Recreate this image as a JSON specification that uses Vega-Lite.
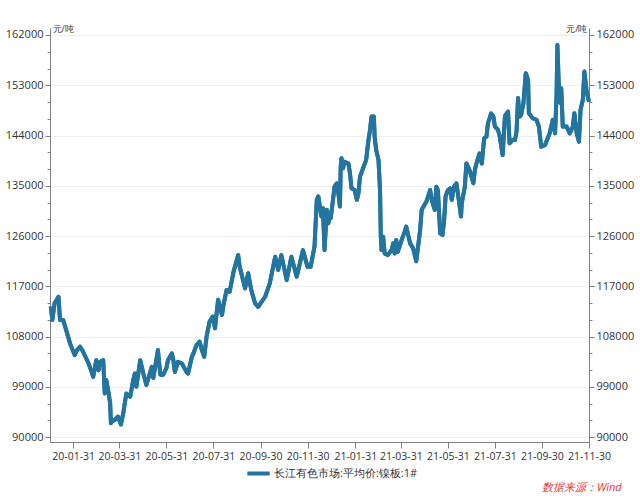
{
  "$schema": "https://vega.github.io/schema/vega-lite/v6.json",
  "autosize": "none",
  "width": 539,
  "height": 414,
  "padding": {"left": 50, "top": 28, "right": 51, "bottom": 57},
  "background": "white",
  "config": {
    "view": {"stroke": null},
    "font": "Open Sans",
    "axis": {"labelFont": "Open Sans", "labelFontSize": 11, "labelColor": "#333333", "domainColor": "#808080", "tickColor": "#808080", "gridColor": "#eeeeee", "titleFont": "Open Sans", "titleFontWeight": "normal", "titleColor": "#333333"}
  },
  "title": {"text": "数据来源：Wind", "orient": "bottom", "anchor": "end", "offset": 14, "dx": -12, "dy": -14, "fontSize": 11, "fontStyle": "italic", "fontWeight": "normal", "color": "#e0333a", "font": "Open Sans"},
  "data": {"values": [
    {"d":"2020-01-02","v":113400},{"d":"2020-01-04","v":111000},{"d":"2020-01-07","v":114000},{"d":"2020-01-12","v":115150},{"d":"2020-01-14","v":111000},{"d":"2020-01-18","v":111000},{"d":"2020-01-20","v":110100},{"d":"2020-01-27","v":106800},{"d":"2020-02-02","v":104700},{"d":"2020-02-05","v":105600},{"d":"2020-02-09","v":106200},{"d":"2020-02-13","v":105300},{"d":"2020-02-20","v":103200},{"d":"2020-02-24","v":101700},{"d":"2020-02-26","v":100800},{"d":"2020-03-01","v":103800},{"d":"2020-03-04","v":102000},{"d":"2020-03-06","v":103500},{"d":"2020-03-10","v":103800},{"d":"2020-03-12","v":97850},{"d":"2020-03-14","v":100250},{"d":"2020-03-17","v":97850},{"d":"2020-03-19","v":96100},{"d":"2020-03-20","v":92500},{"d":"2020-03-21","v":92800},{"d":"2020-03-25","v":93100},{"d":"2020-03-29","v":93700},{"d":"2020-04-02","v":92300},{"d":"2020-04-05","v":94300},{"d":"2020-04-09","v":97850},{"d":"2020-04-14","v":97250},{"d":"2020-04-18","v":100250},{"d":"2020-04-20","v":101400},{"d":"2020-04-22","v":99050},{"d":"2020-04-27","v":103800},{"d":"2020-05-01","v":101400},{"d":"2020-05-05","v":99350},{"d":"2020-05-12","v":102600},{"d":"2020-05-14","v":100600},{"d":"2020-05-20","v":105600},{"d":"2020-05-23","v":101200},{"d":"2020-05-27","v":101200},{"d":"2020-05-31","v":102400},{"d":"2020-06-02","v":103800},{"d":"2020-06-07","v":105000},{"d":"2020-06-09","v":103800},{"d":"2020-06-11","v":101700},{"d":"2020-06-15","v":103500},{"d":"2020-06-20","v":103200},{"d":"2020-06-26","v":101700},{"d":"2020-06-28","v":101400},{"d":"2020-07-03","v":104400},{"d":"2020-07-05","v":105000},{"d":"2020-07-09","v":106500},{"d":"2020-07-13","v":107100},{"d":"2020-07-16","v":105600},{"d":"2020-07-19","v":104400},{"d":"2020-07-22","v":108000},{"d":"2020-07-26","v":110700},{"d":"2020-07-30","v":111600},{"d":"2020-08-02","v":109500},{"d":"2020-08-06","v":114600},{"d":"2020-08-11","v":111900},{"d":"2020-08-13","v":113700},{"d":"2020-08-17","v":116350},{"d":"2020-08-21","v":116050},{"d":"2020-08-26","v":119600},{"d":"2020-09-01","v":122600},{"d":"2020-09-03","v":120500},{"d":"2020-09-10","v":116650},{"d":"2020-09-14","v":119350},{"d":"2020-09-18","v":116350},{"d":"2020-09-23","v":113950},{"d":"2020-09-27","v":113350},{"d":"2020-10-06","v":115150},{"d":"2020-10-12","v":117550},{"d":"2020-10-19","v":122300},{"d":"2020-10-23","v":119950},{"d":"2020-10-27","v":122600},{"d":"2020-11-03","v":118150},{"d":"2020-11-09","v":122300},{"d":"2020-11-16","v":118750},{"d":"2020-11-22","v":122300},{"d":"2020-11-24","v":123500},{"d":"2020-11-30","v":120500},{"d":"2020-12-04","v":120500},{"d":"2020-12-09","v":124100},{"d":"2020-12-12","v":132500},{"d":"2020-12-14","v":133100},{"d":"2020-12-16","v":131300},{"d":"2020-12-18","v":129500},{"d":"2020-12-20","v":131000},{"d":"2020-12-22","v":123500},{"d":"2020-12-25","v":130700},{"d":"2020-12-27","v":128300},{"d":"2020-12-29","v":130100},{"d":"2020-12-30","v":129200},{"d":"2021-01-02","v":132500},{"d":"2021-01-04","v":134850},{"d":"2021-01-07","v":135450},{"d":"2021-01-09","v":133650},{"d":"2021-01-11","v":131300},{"d":"2021-01-12","v":138450},{"d":"2021-01-13","v":139950},{"d":"2021-01-15","v":138150},{"d":"2021-01-17","v":139300},{"d":"2021-01-22","v":139000},{"d":"2021-01-24","v":137250},{"d":"2021-01-26","v":134550},{"d":"2021-01-30","v":134250},{"d":"2021-02-02","v":132500},{"d":"2021-02-04","v":133650},{"d":"2021-02-06","v":136650},{"d":"2021-02-10","v":138150},{"d":"2021-02-14","v":139650},{"d":"2021-02-17","v":143200},{"d":"2021-02-19","v":145000},{"d":"2021-02-21","v":147400},{"d":"2021-02-24","v":147400},{"d":"2021-02-25","v":143800},{"d":"2021-02-27","v":141400},{"d":"2021-03-02","v":139650},{"d":"2021-03-04","v":134250},{"d":"2021-03-05","v":125900},{"d":"2021-03-06","v":123500},{"d":"2021-03-08","v":125900},{"d":"2021-03-10","v":122900},{"d":"2021-03-14","v":122600},{"d":"2021-03-19","v":123500},{"d":"2021-03-21","v":124700},{"d":"2021-03-23","v":122900},{"d":"2021-03-25","v":125300},{"d":"2021-03-27","v":123200},{"d":"2021-04-01","v":125300},{"d":"2021-04-05","v":126800},{"d":"2021-04-07","v":127700},{"d":"2021-04-09","v":126500},{"d":"2021-04-12","v":124700},{"d":"2021-04-16","v":123800},{"d":"2021-04-20","v":121500},{"d":"2021-04-25","v":127100},{"d":"2021-04-27","v":130700},{"d":"2021-05-03","v":132150},{"d":"2021-05-08","v":134250},{"d":"2021-05-10","v":132500},{"d":"2021-05-14","v":130700},{"d":"2021-05-16","v":134850},{"d":"2021-05-18","v":134250},{"d":"2021-05-21","v":126500},{"d":"2021-05-24","v":126200},{"d":"2021-05-26","v":128600},{"d":"2021-05-28","v":133100},{"d":"2021-05-31","v":134250},{"d":"2021-06-03","v":134550},{"d":"2021-06-05","v":132500},{"d":"2021-06-08","v":134850},{"d":"2021-06-11","v":135450},{"d":"2021-06-13","v":133650},{"d":"2021-06-17","v":129500},{"d":"2021-06-18","v":131900},{"d":"2021-06-22","v":134850},{"d":"2021-06-24","v":139000},{"d":"2021-06-28","v":137850},{"d":"2021-07-03","v":135450},{"d":"2021-07-05","v":137850},{"d":"2021-07-07","v":139000},{"d":"2021-07-11","v":140800},{"d":"2021-07-14","v":139000},{"d":"2021-07-17","v":143500},{"d":"2021-07-20","v":143800},{"d":"2021-07-22","v":146200},{"d":"2021-07-26","v":147950},{"d":"2021-07-29","v":147400},{"d":"2021-07-31","v":145600},{"d":"2021-08-04","v":145000},{"d":"2021-08-06","v":144000},{"d":"2021-08-10","v":140500},{"d":"2021-08-13","v":147500},{"d":"2021-08-17","v":148300},{"d":"2021-08-19","v":142600},{"d":"2021-08-23","v":143200},{"d":"2021-08-26","v":143200},{"d":"2021-08-28","v":144700},{"d":"2021-08-30","v":150700},{"d":"2021-09-01","v":147400},{"d":"2021-09-03","v":147700},{"d":"2021-09-06","v":149800},{"d":"2021-09-09","v":155150},{"d":"2021-09-12","v":153950},{"d":"2021-09-13","v":148000},{"d":"2021-09-18","v":147100},{"d":"2021-09-23","v":146800},{"d":"2021-09-26","v":145600},{"d":"2021-09-29","v":142000},{"d":"2021-10-04","v":142300},{"d":"2021-10-10","v":144400},{"d":"2021-10-14","v":146800},{"d":"2021-10-17","v":144400},{"d":"2021-10-19","v":151550},{"d":"2021-10-20","v":160200},{"d":"2021-10-22","v":152150},{"d":"2021-10-24","v":149800},{"d":"2021-10-25","v":152450},{"d":"2021-10-27","v":145600},{"d":"2021-11-01","v":145600},{"d":"2021-11-05","v":144400},{"d":"2021-11-09","v":145600},{"d":"2021-11-11","v":148000},{"d":"2021-11-14","v":144400},{"d":"2021-11-17","v":142900},{"d":"2021-11-19","v":148600},{"d":"2021-11-22","v":150400},{"d":"2021-11-24","v":155450},{"d":"2021-11-27","v":151850},{"d":"2021-11-30","v":150050}
  ]},
  "transform": [{"calculate": "'长江有色市场:平均价:镍板:1#'", "as": "s"}],
  "layer": [
    {
      "mark": {"type": "line", "strokeWidth": 4, "strokeJoin": "round"},
      "encoding": {
        "x": {"field": "d", "type": "temporal", "title": null,
          "scale": {"type": "utc", "domain": [{"year": 2020, "month": 1, "date": 1, "utc": true}, {"year": 2021, "month": 11, "date": 30, "utc": true}]},
          "axis": {"grid": false, "labelFontSize": 10.5, "labelPadding": 3, "labelOverlap": false, "labelFlush": false, "labelBound": false,
            "values": [
              {"year":2020,"month":1,"date":31,"utc":true},{"year":2020,"month":2,"date":29,"utc":true},{"year":2020,"month":3,"date":31,"utc":true},{"year":2020,"month":4,"date":30,"utc":true},{"year":2020,"month":5,"date":31,"utc":true},{"year":2020,"month":6,"date":30,"utc":true},{"year":2020,"month":7,"date":31,"utc":true},{"year":2020,"month":8,"date":31,"utc":true},{"year":2020,"month":9,"date":30,"utc":true},{"year":2020,"month":10,"date":31,"utc":true},{"year":2020,"month":11,"date":30,"utc":true},{"year":2020,"month":12,"date":31,"utc":true},
              {"year":2021,"month":1,"date":31,"utc":true},{"year":2021,"month":2,"date":28,"utc":true},{"year":2021,"month":3,"date":31,"utc":true},{"year":2021,"month":4,"date":30,"utc":true},{"year":2021,"month":5,"date":31,"utc":true},{"year":2021,"month":6,"date":30,"utc":true},{"year":2021,"month":7,"date":31,"utc":true},{"year":2021,"month":8,"date":31,"utc":true},{"year":2021,"month":9,"date":30,"utc":true},{"year":2021,"month":10,"date":31,"utc":true},{"year":2021,"month":11,"date":30,"utc":true}
            ],
            "labelExpr": "utcmonth(datum.value) % 2 === 0 ? utcFormat(datum.value, '%y-%m-%d') : ''",
            "tickSize": {"condition": {"test": "utcmonth(datum.value) % 2 === 0", "value": 6}, "value": 4}
          }
        },
        "y": {"field": "v", "type": "quantitative",
          "scale": {"domain": [89150, 163250], "nice": false, "zero": false},
          "axis": {"orient": "left", "title": "元/吨", "titleAngle": 0, "titleAlign": "left", "titleBaseline": "middle", "titleX": 2, "titleY": 0, "titleFontSize": 9,
            "values": [90000,93000,96000,99000,102000,105000,108000,111000,114000,117000,120000,123000,126000,129000,132000,135000,138000,141000,144000,147000,150000,153000,156000,159000,162000],
            "format": "d", "labelOverlap": false, "labelPadding": 2,
            "labelExpr": "datum.value % 9000 === 0 ? datum.label : ''",
            "tickSize": {"condition": {"test": "datum.value % 9000 === 0", "value": 5}, "value": 3},
            "grid": true,
            "gridOpacity": {"condition": {"test": "datum.value % 9000 === 0", "value": 1}, "value": 0}
          }
        },
        "color": {"field": "s", "type": "nominal", "scale": {"range": ["#23759f"]},
          "legend": {"title": null, "orient": "none", "legendX": 195, "legendY": 432, "symbolType": "stroke", "symbolStrokeWidth": 4, "symbolSize": 500, "labelFontSize": 11, "labelColor": "#333333", "labelFont": "Open Sans", "labelOffset": 2}
        }
      }
    },
    {
      "mark": {"type": "line", "strokeWidth": 4, "strokeJoin": "round", "color": "#23759f"},
      "encoding": {
        "x": {"field": "d", "type": "temporal"},
        "y": {"field": "v", "type": "quantitative",
          "axis": {"orient": "right", "title": "元/吨", "titleAngle": 0, "titleAlign": "right", "titleBaseline": "middle", "titleX": -2, "titleY": 0, "titleFontSize": 9,
            "values": [90000,93000,96000,99000,102000,105000,108000,111000,114000,117000,120000,123000,126000,129000,132000,135000,138000,141000,144000,147000,150000,153000,156000,159000,162000],
            "format": "d", "labelOverlap": false, "labelPadding": 2,
            "labelExpr": "datum.value % 9000 === 0 ? datum.label : ''",
            "tickSize": {"condition": {"test": "datum.value % 9000 === 0", "value": 5}, "value": 3},
            "grid": false
          }
        }
      }
    }
  ],
  "resolve": {"axis": {"y": "independent"}}
}
